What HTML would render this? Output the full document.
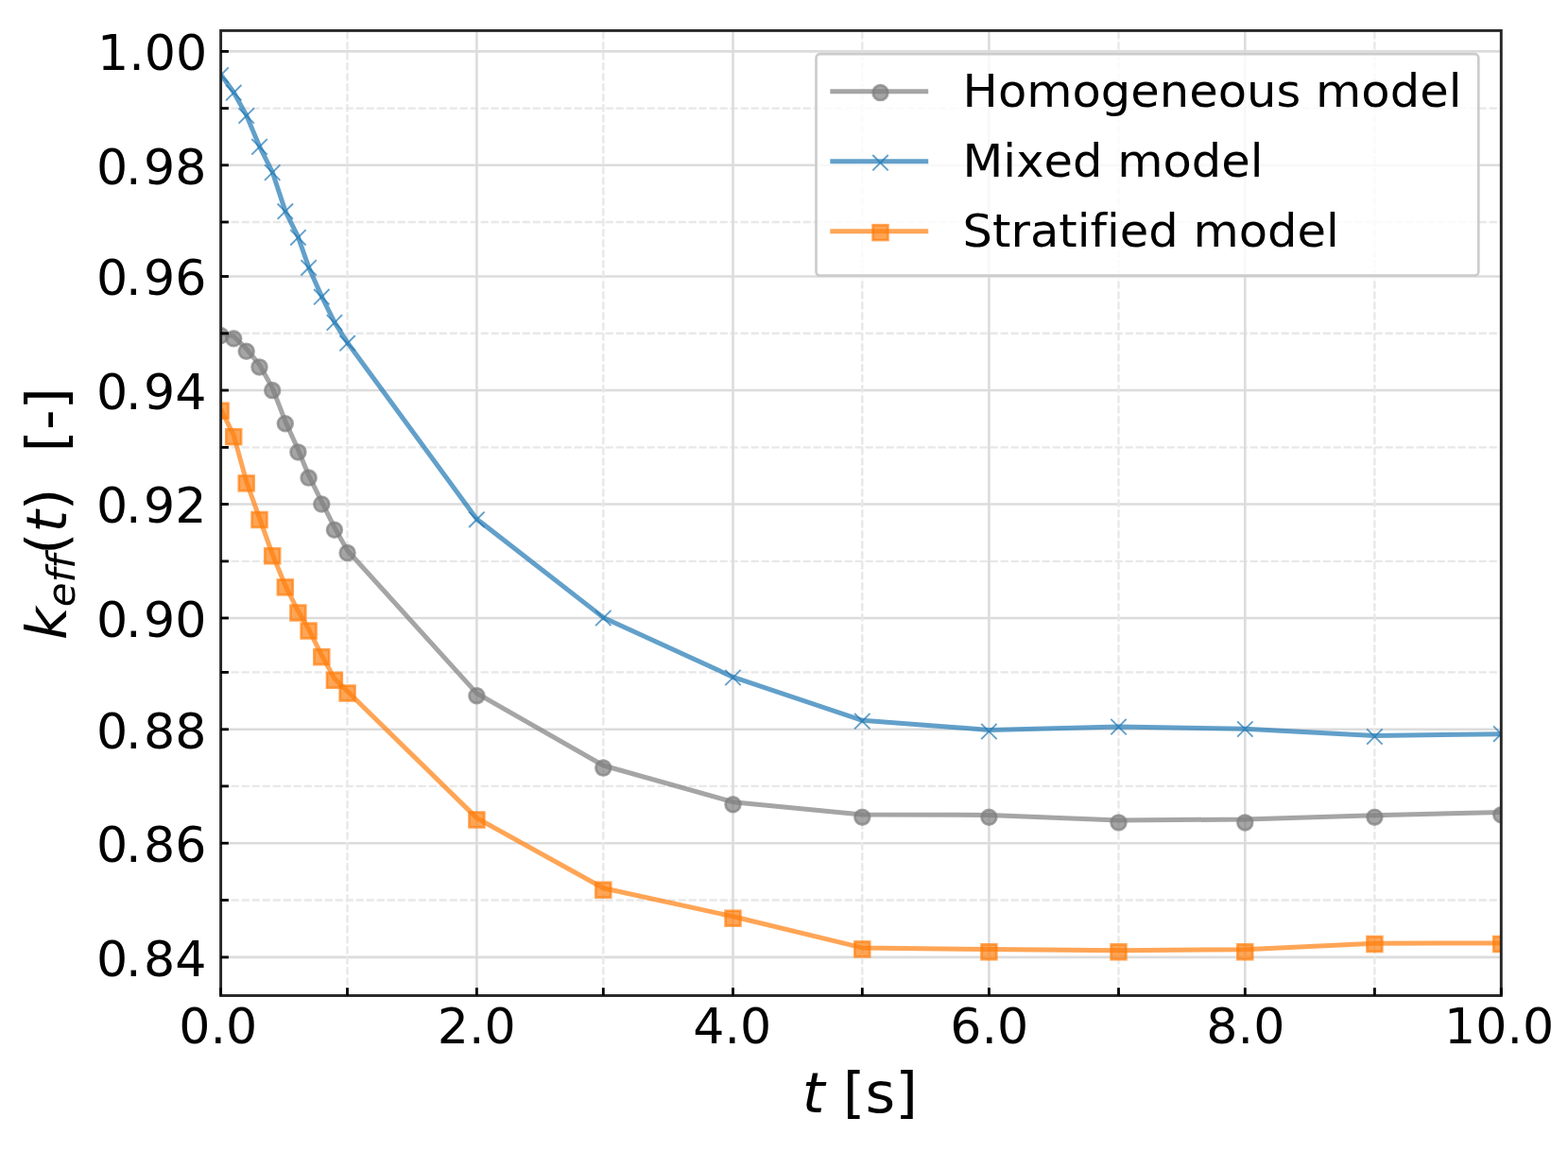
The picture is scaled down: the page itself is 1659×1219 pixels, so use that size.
<!DOCTYPE html><html><head><meta charset="utf-8"><title>k_eff(t) vs t</title><style>
html,body{margin:0;padding:0;background:#fff;overflow:hidden;}svg{display:block;}text{font-family:"DejaVu Sans","Liberation Sans",sans-serif;fill:#000;font-variant-ligatures:none;font-feature-settings:"liga" 0,"clig" 0;font-kerning:none;}
</style></head><body>
<svg width="1659" height="1219" viewBox="0 0 1659 1219">
<rect x="0" y="0" width="1659" height="1219" fill="#fff"/>
<g>
<defs><clipPath id="ax"><rect x="233.6" y="32.4" width="1354.7" height="1021.1"/></clipPath></defs>
<g id="grid" fill="none">
<line x1="233.6" y1="54.4" x2="1588.3" y2="54.4" stroke="#dcdcdc" stroke-width="2.6"/>
<line x1="233.6" y1="114.6" x2="1588.3" y2="114.6" stroke="#e8e8e8" stroke-width="2.4" stroke-dasharray="8.2 2.8"/>
<line x1="233.6" y1="174.8" x2="1588.3" y2="174.8" stroke="#dcdcdc" stroke-width="2.6"/>
<line x1="233.6" y1="235.0" x2="1588.3" y2="235.0" stroke="#e8e8e8" stroke-width="2.4" stroke-dasharray="8.2 2.8"/>
<line x1="233.6" y1="292.5" x2="1588.3" y2="292.5" stroke="#dcdcdc" stroke-width="2.6"/>
<line x1="233.6" y1="352.8" x2="1588.3" y2="352.8" stroke="#e8e8e8" stroke-width="2.4" stroke-dasharray="8.2 2.8"/>
<line x1="233.6" y1="413.0" x2="1588.3" y2="413.0" stroke="#dcdcdc" stroke-width="2.6"/>
<line x1="233.6" y1="473.4" x2="1588.3" y2="473.4" stroke="#e8e8e8" stroke-width="2.4" stroke-dasharray="8.2 2.8"/>
<line x1="233.6" y1="533.5" x2="1588.3" y2="533.5" stroke="#dcdcdc" stroke-width="2.6"/>
<line x1="233.6" y1="593.9" x2="1588.3" y2="593.9" stroke="#e8e8e8" stroke-width="2.4" stroke-dasharray="8.2 2.8"/>
<line x1="233.6" y1="654.0" x2="1588.3" y2="654.0" stroke="#dcdcdc" stroke-width="2.6"/>
<line x1="233.6" y1="711.4" x2="1588.3" y2="711.4" stroke="#e8e8e8" stroke-width="2.4" stroke-dasharray="8.2 2.8"/>
<line x1="233.6" y1="771.8" x2="1588.3" y2="771.8" stroke="#dcdcdc" stroke-width="2.6"/>
<line x1="233.6" y1="831.9" x2="1588.3" y2="831.9" stroke="#e8e8e8" stroke-width="2.4" stroke-dasharray="8.2 2.8"/>
<line x1="233.6" y1="892.2" x2="1588.3" y2="892.2" stroke="#dcdcdc" stroke-width="2.6"/>
<line x1="233.6" y1="952.5" x2="1588.3" y2="952.5" stroke="#e8e8e8" stroke-width="2.4" stroke-dasharray="8.2 2.8"/>
<line x1="233.6" y1="1012.9" x2="1588.3" y2="1012.9" stroke="#dcdcdc" stroke-width="2.6"/>
<line x1="367.5" y1="1053.5" x2="367.5" y2="32.4" stroke="#e8e8e8" stroke-width="2.4" stroke-dasharray="8.2 2.8"/>
<line x1="504.4" y1="32.4" x2="504.4" y2="1053.5" stroke="#dcdcdc" stroke-width="2.6"/>
<line x1="638.3" y1="1053.5" x2="638.3" y2="32.4" stroke="#e8e8e8" stroke-width="2.4" stroke-dasharray="8.2 2.8"/>
<line x1="775.5" y1="32.4" x2="775.5" y2="1053.5" stroke="#dcdcdc" stroke-width="2.6"/>
<line x1="912.3" y1="1053.5" x2="912.3" y2="32.4" stroke="#e8e8e8" stroke-width="2.4" stroke-dasharray="8.2 2.8"/>
<line x1="1046.4" y1="32.4" x2="1046.4" y2="1053.5" stroke="#dcdcdc" stroke-width="2.6"/>
<line x1="1183.5" y1="1053.5" x2="1183.5" y2="32.4" stroke="#e8e8e8" stroke-width="2.4" stroke-dasharray="8.2 2.8"/>
<line x1="1317.3" y1="32.4" x2="1317.3" y2="1053.5" stroke="#dcdcdc" stroke-width="2.6"/>
<line x1="1454.4" y1="1053.5" x2="1454.4" y2="32.4" stroke="#e8e8e8" stroke-width="2.4" stroke-dasharray="8.2 2.8"/>
</g>
<g clip-path="url(#ax)">
<polyline points="233.6,352.4 247.2,355.7 260.7,369.1 274.5,385.8 288.2,410.5 301.8,445.6 315.4,475.8 326.6,503 340.3,530.9 353.9,558.1 367.6,582.5 504.4,733.6 638.3,810 775.5,848.7 912.3,861.9 1046.4,862.4 1183.5,867.9 1317.3,867.1 1454.4,862.7 1588.3,859.4" fill="none" stroke="#7f7f7f" stroke-opacity="0.7" stroke-width="5.0" stroke-linejoin="round" stroke-linecap="butt"/>
<circle cx="233.6" cy="355" r="7.9" fill="#7f7f7f" fill-opacity="0.7" stroke="#7f7f7f" stroke-opacity="0.7" stroke-width="2.7"/>
<circle cx="247.2" cy="358.3" r="7.9" fill="#7f7f7f" fill-opacity="0.7" stroke="#7f7f7f" stroke-opacity="0.7" stroke-width="2.7"/>
<circle cx="260.7" cy="371.7" r="7.9" fill="#7f7f7f" fill-opacity="0.7" stroke="#7f7f7f" stroke-opacity="0.7" stroke-width="2.7"/>
<circle cx="274.5" cy="388.4" r="7.9" fill="#7f7f7f" fill-opacity="0.7" stroke="#7f7f7f" stroke-opacity="0.7" stroke-width="2.7"/>
<circle cx="288.2" cy="413.1" r="7.9" fill="#7f7f7f" fill-opacity="0.7" stroke="#7f7f7f" stroke-opacity="0.7" stroke-width="2.7"/>
<circle cx="301.8" cy="448.2" r="7.9" fill="#7f7f7f" fill-opacity="0.7" stroke="#7f7f7f" stroke-opacity="0.7" stroke-width="2.7"/>
<circle cx="315.4" cy="478.4" r="7.9" fill="#7f7f7f" fill-opacity="0.7" stroke="#7f7f7f" stroke-opacity="0.7" stroke-width="2.7"/>
<circle cx="326.6" cy="505.6" r="7.9" fill="#7f7f7f" fill-opacity="0.7" stroke="#7f7f7f" stroke-opacity="0.7" stroke-width="2.7"/>
<circle cx="340.3" cy="533.5" r="7.9" fill="#7f7f7f" fill-opacity="0.7" stroke="#7f7f7f" stroke-opacity="0.7" stroke-width="2.7"/>
<circle cx="353.9" cy="560.7" r="7.9" fill="#7f7f7f" fill-opacity="0.7" stroke="#7f7f7f" stroke-opacity="0.7" stroke-width="2.7"/>
<circle cx="367.6" cy="585.1" r="7.9" fill="#7f7f7f" fill-opacity="0.7" stroke="#7f7f7f" stroke-opacity="0.7" stroke-width="2.7"/>
<circle cx="504.4" cy="736.2" r="7.9" fill="#7f7f7f" fill-opacity="0.7" stroke="#7f7f7f" stroke-opacity="0.7" stroke-width="2.7"/>
<circle cx="638.3" cy="812.6" r="7.9" fill="#7f7f7f" fill-opacity="0.7" stroke="#7f7f7f" stroke-opacity="0.7" stroke-width="2.7"/>
<circle cx="775.5" cy="851.3" r="7.9" fill="#7f7f7f" fill-opacity="0.7" stroke="#7f7f7f" stroke-opacity="0.7" stroke-width="2.7"/>
<circle cx="912.3" cy="864.7" r="7.9" fill="#7f7f7f" fill-opacity="0.7" stroke="#7f7f7f" stroke-opacity="0.7" stroke-width="2.7"/>
<circle cx="1046.4" cy="864.8" r="7.9" fill="#7f7f7f" fill-opacity="0.7" stroke="#7f7f7f" stroke-opacity="0.7" stroke-width="2.7"/>
<circle cx="1183.5" cy="870.4" r="7.9" fill="#7f7f7f" fill-opacity="0.7" stroke="#7f7f7f" stroke-opacity="0.7" stroke-width="2.7"/>
<circle cx="1317.3" cy="870.4" r="7.9" fill="#7f7f7f" fill-opacity="0.7" stroke="#7f7f7f" stroke-opacity="0.7" stroke-width="2.7"/>
<circle cx="1454.4" cy="864.7" r="7.9" fill="#7f7f7f" fill-opacity="0.7" stroke="#7f7f7f" stroke-opacity="0.7" stroke-width="2.7"/>
<circle cx="1588.3" cy="862.2" r="7.9" fill="#7f7f7f" fill-opacity="0.7" stroke="#7f7f7f" stroke-opacity="0.7" stroke-width="2.7"/>
<polyline points="233.6,78.9 247.2,97.5 260.7,121.9 274.5,154.8 288.2,182 301.8,223.1 315.4,250.7 326.6,282.7 340.3,313.6 353.9,340.8 367.6,362.6 504.4,549.2 638.3,653.4 775.5,716.4 912.3,762.3 1046.4,772.4 1183.5,769.1 1317.3,771.3 1454.4,778.5 1588.3,776.8" fill="none" stroke="#1f77b4" stroke-opacity="0.7" stroke-width="5.0" stroke-linejoin="round" stroke-linecap="butt"/>
<path d="M225.4,71.3L241.8,87.7M225.4,87.7L241.8,71.3" stroke="#1f77b4" stroke-opacity="0.7" stroke-width="1.9" fill="none"/>
<path d="M239,89.9L255.4,106.3M239,106.3L255.4,89.9" stroke="#1f77b4" stroke-opacity="0.7" stroke-width="1.9" fill="none"/>
<path d="M252.5,114.3L268.9,130.7M252.5,130.7L268.9,114.3" stroke="#1f77b4" stroke-opacity="0.7" stroke-width="1.9" fill="none"/>
<path d="M266.3,147.2L282.7,163.6M266.3,163.6L282.7,147.2" stroke="#1f77b4" stroke-opacity="0.7" stroke-width="1.9" fill="none"/>
<path d="M280,174.4L296.4,190.8M280,190.8L296.4,174.4" stroke="#1f77b4" stroke-opacity="0.7" stroke-width="1.9" fill="none"/>
<path d="M293.6,215.5L310,231.9M293.6,231.9L310,215.5" stroke="#1f77b4" stroke-opacity="0.7" stroke-width="1.9" fill="none"/>
<path d="M307.2,243.1L323.6,259.5M307.2,259.5L323.6,243.1" stroke="#1f77b4" stroke-opacity="0.7" stroke-width="1.9" fill="none"/>
<path d="M318.4,275.1L334.8,291.5M318.4,291.5L334.8,275.1" stroke="#1f77b4" stroke-opacity="0.7" stroke-width="1.9" fill="none"/>
<path d="M332.1,306L348.5,322.4M332.1,322.4L348.5,306" stroke="#1f77b4" stroke-opacity="0.7" stroke-width="1.9" fill="none"/>
<path d="M345.7,333.2L362.1,349.6M345.7,349.6L362.1,333.2" stroke="#1f77b4" stroke-opacity="0.7" stroke-width="1.9" fill="none"/>
<path d="M359.4,355L375.8,371.4M359.4,371.4L375.8,355" stroke="#1f77b4" stroke-opacity="0.7" stroke-width="1.9" fill="none"/>
<path d="M496.2,541.6L512.6,558M496.2,558L512.6,541.6" stroke="#1f77b4" stroke-opacity="0.7" stroke-width="1.9" fill="none"/>
<path d="M630.1,645.8L646.5,662.2M630.1,662.2L646.5,645.8" stroke="#1f77b4" stroke-opacity="0.7" stroke-width="1.9" fill="none"/>
<path d="M767.3,708.8L783.7,725.2M767.3,725.2L783.7,708.8" stroke="#1f77b4" stroke-opacity="0.7" stroke-width="1.9" fill="none"/>
<path d="M904.1,754.9L920.5,771.3M904.1,771.3L920.5,754.9" stroke="#1f77b4" stroke-opacity="0.7" stroke-width="1.9" fill="none"/>
<path d="M1038.2,765.8L1054.6,782.2M1038.2,782.2L1054.6,765.8" stroke="#1f77b4" stroke-opacity="0.7" stroke-width="1.9" fill="none"/>
<path d="M1175.3,760.9L1191.7,777.3M1175.3,777.3L1191.7,760.9" stroke="#1f77b4" stroke-opacity="0.7" stroke-width="1.9" fill="none"/>
<path d="M1309.1,763.3L1325.5,779.7M1309.1,779.7L1325.5,763.3" stroke="#1f77b4" stroke-opacity="0.7" stroke-width="1.9" fill="none"/>
<path d="M1446.2,771.3L1462.6,787.7M1446.2,787.7L1462.6,771.3" stroke="#1f77b4" stroke-opacity="0.7" stroke-width="1.9" fill="none"/>
<path d="M1580.1,768.4L1596.5,784.8M1580.1,784.8L1596.5,768.4" stroke="#1f77b4" stroke-opacity="0.7" stroke-width="1.9" fill="none"/>
<polyline points="233.6,432.8 247.2,460.3 260.7,509.5 274.5,548.1 288.2,586.4 301.8,619.5 315.4,646.6 326.6,665.6 340.3,693.3 353.9,717.9 367.6,731.6 504.4,865.6 638.3,939.8 775.5,969.8 912.3,1002.9 1046.4,1004.5 1183.5,1005.8 1317.3,1004.7 1454.4,998.2 1588.3,998" fill="none" stroke="#ff7f0e" stroke-opacity="0.7" stroke-width="5.0" stroke-linejoin="round" stroke-linecap="butt"/>
<rect x="225.7" y="426.8" width="15.8" height="15.8" fill="#ff7f0e" fill-opacity="0.7" stroke="#ff7f0e" stroke-opacity="0.7" stroke-width="2.7"/>
<rect x="239.3" y="454.3" width="15.8" height="15.8" fill="#ff7f0e" fill-opacity="0.7" stroke="#ff7f0e" stroke-opacity="0.7" stroke-width="2.7"/>
<rect x="252.8" y="503.5" width="15.8" height="15.8" fill="#ff7f0e" fill-opacity="0.7" stroke="#ff7f0e" stroke-opacity="0.7" stroke-width="2.7"/>
<rect x="266.6" y="542.1" width="15.8" height="15.8" fill="#ff7f0e" fill-opacity="0.7" stroke="#ff7f0e" stroke-opacity="0.7" stroke-width="2.7"/>
<rect x="280.3" y="580.4" width="15.8" height="15.8" fill="#ff7f0e" fill-opacity="0.7" stroke="#ff7f0e" stroke-opacity="0.7" stroke-width="2.7"/>
<rect x="293.9" y="613.5" width="15.8" height="15.8" fill="#ff7f0e" fill-opacity="0.7" stroke="#ff7f0e" stroke-opacity="0.7" stroke-width="2.7"/>
<rect x="307.5" y="640.6" width="15.8" height="15.8" fill="#ff7f0e" fill-opacity="0.7" stroke="#ff7f0e" stroke-opacity="0.7" stroke-width="2.7"/>
<rect x="318.7" y="659.6" width="15.8" height="15.8" fill="#ff7f0e" fill-opacity="0.7" stroke="#ff7f0e" stroke-opacity="0.7" stroke-width="2.7"/>
<rect x="332.4" y="687.3" width="15.8" height="15.8" fill="#ff7f0e" fill-opacity="0.7" stroke="#ff7f0e" stroke-opacity="0.7" stroke-width="2.7"/>
<rect x="346" y="711.9" width="15.8" height="15.8" fill="#ff7f0e" fill-opacity="0.7" stroke="#ff7f0e" stroke-opacity="0.7" stroke-width="2.7"/>
<rect x="359.7" y="725.6" width="15.8" height="15.8" fill="#ff7f0e" fill-opacity="0.7" stroke="#ff7f0e" stroke-opacity="0.7" stroke-width="2.7"/>
<rect x="496.5" y="859.6" width="15.8" height="15.8" fill="#ff7f0e" fill-opacity="0.7" stroke="#ff7f0e" stroke-opacity="0.7" stroke-width="2.7"/>
<rect x="630.4" y="933.8" width="15.8" height="15.8" fill="#ff7f0e" fill-opacity="0.7" stroke="#ff7f0e" stroke-opacity="0.7" stroke-width="2.7"/>
<rect x="767.6" y="963.8" width="15.8" height="15.8" fill="#ff7f0e" fill-opacity="0.7" stroke="#ff7f0e" stroke-opacity="0.7" stroke-width="2.7"/>
<rect x="904.4" y="996.5" width="15.8" height="15.8" fill="#ff7f0e" fill-opacity="0.7" stroke="#ff7f0e" stroke-opacity="0.7" stroke-width="2.7"/>
<rect x="1038.5" y="999.4" width="15.8" height="15.8" fill="#ff7f0e" fill-opacity="0.7" stroke="#ff7f0e" stroke-opacity="0.7" stroke-width="2.7"/>
<rect x="1175.6" y="999.4" width="15.8" height="15.8" fill="#ff7f0e" fill-opacity="0.7" stroke="#ff7f0e" stroke-opacity="0.7" stroke-width="2.7"/>
<rect x="1309.4" y="999.4" width="15.8" height="15.8" fill="#ff7f0e" fill-opacity="0.7" stroke="#ff7f0e" stroke-opacity="0.7" stroke-width="2.7"/>
<rect x="1446.5" y="991.1" width="15.8" height="15.8" fill="#ff7f0e" fill-opacity="0.7" stroke="#ff7f0e" stroke-opacity="0.7" stroke-width="2.7"/>
<rect x="1580.4" y="991.1" width="15.8" height="15.8" fill="#ff7f0e" fill-opacity="0.7" stroke="#ff7f0e" stroke-opacity="0.7" stroke-width="2.7"/>
</g>
<rect x="233.6" y="32.4" width="1354.7" height="1021.1" fill="none" stroke="#262626" stroke-width="2.9" stroke-linejoin="miter"/>
<g stroke="#000" stroke-width="2.8">
<line x1="233.6" y1="54.4" x2="241.9" y2="54.4"/>
<line x1="233.6" y1="114.6" x2="241.9" y2="114.6"/>
<line x1="233.6" y1="174.8" x2="241.9" y2="174.8"/>
<line x1="233.6" y1="235.0" x2="241.9" y2="235.0"/>
<line x1="233.6" y1="292.5" x2="241.9" y2="292.5"/>
<line x1="233.6" y1="352.8" x2="241.9" y2="352.8"/>
<line x1="233.6" y1="413.0" x2="241.9" y2="413.0"/>
<line x1="233.6" y1="473.4" x2="241.9" y2="473.4"/>
<line x1="233.6" y1="533.5" x2="241.9" y2="533.5"/>
<line x1="233.6" y1="593.9" x2="241.9" y2="593.9"/>
<line x1="233.6" y1="654.0" x2="241.9" y2="654.0"/>
<line x1="233.6" y1="711.4" x2="241.9" y2="711.4"/>
<line x1="233.6" y1="771.8" x2="241.9" y2="771.8"/>
<line x1="233.6" y1="831.9" x2="241.9" y2="831.9"/>
<line x1="233.6" y1="892.2" x2="241.9" y2="892.2"/>
<line x1="233.6" y1="952.5" x2="241.9" y2="952.5"/>
<line x1="233.6" y1="1012.9" x2="241.9" y2="1012.9"/>
<line x1="233.6" y1="1053.5" x2="233.6" y2="1045.2"/>
<line x1="367.5" y1="1053.5" x2="367.5" y2="1045.2"/>
<line x1="504.4" y1="1053.5" x2="504.4" y2="1045.2"/>
<line x1="638.3" y1="1053.5" x2="638.3" y2="1045.2"/>
<line x1="775.5" y1="1053.5" x2="775.5" y2="1045.2"/>
<line x1="912.3" y1="1053.5" x2="912.3" y2="1045.2"/>
<line x1="1046.4" y1="1053.5" x2="1046.4" y2="1045.2"/>
<line x1="1183.5" y1="1053.5" x2="1183.5" y2="1045.2"/>
<line x1="1317.3" y1="1053.5" x2="1317.3" y2="1045.2"/>
<line x1="1454.4" y1="1053.5" x2="1454.4" y2="1045.2"/>
<line x1="1588.3" y1="1053.5" x2="1588.3" y2="1045.2"/>
</g>
<g font-size="51.3" text-anchor="end">
<text transform="translate(219.3,74.2) scale(1.0185,1)">1.00</text>
<text transform="translate(218.4,194.6) scale(1.0185,1)">0<tspan dx="-2.3">.</tspan><tspan dx="2.3">98</tspan></text>
<text transform="translate(218.4,312.3) scale(1.0185,1)">0<tspan dx="-2.3">.</tspan><tspan dx="2.3">96</tspan></text>
<text transform="translate(218.4,432.8) scale(1.0185,1)">0<tspan dx="-2.3">.</tspan><tspan dx="2.3">94</tspan></text>
<text transform="translate(218.4,553.3) scale(1.0185,1)">0<tspan dx="-2.3">.</tspan><tspan dx="2.3">92</tspan></text>
<text transform="translate(218.4,673.8) scale(1.0185,1)">0<tspan dx="-2.3">.</tspan><tspan dx="2.3">90</tspan></text>
<text transform="translate(218.4,791.6) scale(1.0185,1)">0<tspan dx="-2.3">.</tspan><tspan dx="2.3">88</tspan></text>
<text transform="translate(218.4,912) scale(1.0185,1)">0<tspan dx="-2.3">.</tspan><tspan dx="2.3">86</tspan></text>
<text transform="translate(218.4,1032.7) scale(1.0185,1)">0<tspan dx="-2.3">.</tspan><tspan dx="2.3">84</tspan></text>
</g>
<g font-size="51.5" text-anchor="middle">
<text transform="translate(230.8,1103.6) scale(1.0146,1)">0.0</text>
<text transform="translate(504.2,1103.6) scale(1.0146,1)">2.0</text>
<text transform="translate(774.7,1103.6) scale(1.0146,1)">4.0</text>
<text transform="translate(1046.8,1103.6) scale(1.0146,1)">6.0</text>
<text transform="translate(1317.9,1103.6) scale(1.0146,1)">8.0</text>
<text transform="translate(1586.2,1103.6) scale(1.0146,1)">10.0</text>
</g>
<text transform="translate(909.8,1177) scale(1.05,1)" font-size="57.9" text-anchor="middle"><tspan font-style="italic">t</tspan> [s]</text>
<text transform="translate(70.2,543.5) rotate(-90) scale(1.036,1)" font-size="57.9" text-anchor="middle"><tspan font-style="italic">k</tspan><tspan font-style="italic" font-size="40.5" dy="8.4">eff</tspan><tspan dy="-8.4">(</tspan><tspan font-style="italic">t</tspan><tspan>)</tspan><tspan xml:space="preserve">  [-]</tspan></text>
<rect x="863.5" y="57.2" width="700.8" height="234.4" rx="4" ry="4" fill="#fff" fill-opacity="0.8" stroke="#cccccc" stroke-width="2.7"/>
<line x1="878.3" y1="96.7" x2="982.2" y2="96.7" stroke="#7f7f7f" stroke-opacity="0.7" stroke-width="5.0"/>
<circle cx="931.5" cy="98.1" r="7.9" fill="#7f7f7f" fill-opacity="0.7" stroke="#7f7f7f" stroke-opacity="0.7" stroke-width="2.7"/>
<text transform="translate(1018.6,113) scale(1.016,1)" font-size="48.8">Homogeneous model</text>
<line x1="878.3" y1="170.8" x2="982.2" y2="170.8" stroke="#1f77b4" stroke-opacity="0.7" stroke-width="5.0"/>
<path d="M923.3,164L939.7,180.4M923.3,180.4L939.7,164" stroke="#1f77b4" stroke-opacity="0.7" stroke-width="1.9" fill="none"/>
<text transform="translate(1018.6,187.1) scale(1.016,1)" font-size="48.8">Mixed model</text>
<line x1="878.3" y1="244.7" x2="982.2" y2="244.7" stroke="#ff7f0e" stroke-opacity="0.7" stroke-width="5.0"/>
<rect x="923.6" y="238.2" width="15.8" height="15.8" fill="#ff7f0e" fill-opacity="0.7" stroke="#ff7f0e" stroke-opacity="0.7" stroke-width="2.7"/>
<text transform="translate(1018.6,261) scale(1.016,1)" font-size="48.8">Stratified model</text>
</g>
</svg></body></html>
